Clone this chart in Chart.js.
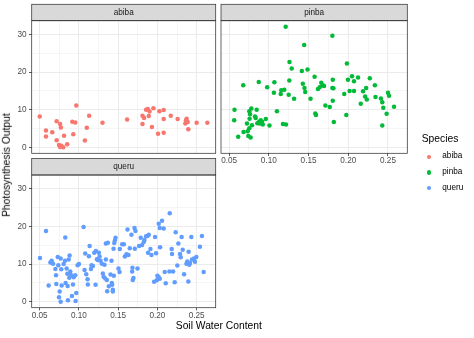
<!DOCTYPE html>
<html><head><meta charset="utf-8">
<script src="https://cdn.jsdelivr.net/npm/chart.js@4.4.0/dist/chart.umd.min.js"></script>
<style>
html,body{margin:0;padding:0;background:#fff;}
body{width:474px;height:338px;position:relative;overflow:hidden;font-family:"Liberation Sans",Arial,sans-serif;}
canvas{position:absolute;}
.t{position:absolute;white-space:nowrap;line-height:1;color:#000;}
.dot{position:absolute;width:4.4px;height:4.4px;border-radius:50%;}
</style></head><body>
<canvas id="cA" width="218" height="156" style="left:0;top:0"></canvas>
<canvas id="cB" width="194" height="172" style="left:216px;top:0"></canvas>
<canvas id="cC" width="218" height="182" style="left:0;top:156px"></canvas>
<div class="t" id="ytitle" style="font-size:10.3px;left:7.2px;top:165px;transform:translate(-50%,-50%) rotate(-90deg);">Photosynthesis Output</div>
<div class="t" id="xtitle" style="font-size:10.3px;left:218.8px;top:321.4px;transform:translateX(-50%);">Soil Water Content</div>
<div id="legend"></div>
<script>
// ---------- data ----------
const species = ['abiba','pinba','queru'];
const speciesColors = ['#F8766D','#00BA38','#619CFF'];

const abibaWater = [0.050,0.058,0.058,0.066,0.0716,0.0716,0.076,0.077,0.0746,0.076,0.0775,0.080,0.081,0.085,0.0915,0.0928,0.0953,0.0966,0.1076,0.110,0.113,0.130,0.1614,0.181,0.181,0.183,0.1856,0.1877,0.189,0.190,0.193,0.195,0.2008,0.2025,0.208,0.208,0.208,0.217,0.2258,0.2356,0.2364,0.2373,0.2386,0.2394,0.250,0.2636];
const abibaPhoto = [8.2,4.5,2.9,4.0,6.9,1.9,6.2,5.3,0.6,0.1,0.4,0.0,3.1,0.8,6.8,3.5,6.6,11.1,1.8,5.2,8.4,6.5,7.4,8.4,6.2,7.8,10.0,10.2,8.3,9.5,5.4,10.4,3.6,9.6,7.5,9.9,3.9,8.4,7.5,6.3,7.2,7.6,6.7,4.8,6.5,6.5];

const pinbaWater = [0.1212,0.180,0.1445,0.126,0.1288,0.1415,0.1487,0.1983,0.0678,0.0873,0.107,0.1258,0.0979,0.1064,0.1157,0.1195,0.125,0.115,0.1428,0.1449,0.1458,0.1318,0.1525,0.1576,0.1618,0.164,0.166,0.1678,0.1695,0.1805,0.180,0.1813,0.1805,0.1712,0.1767,0.1585,0.1593,0.1818,0.1975,0.1949,0.1996,0.2017,0.2047,0.2072,0.2072,0.2123,0.2157,0.2186,0.2212,0.2225,0.2233,0.2271,0.2335,0.2343,0.2411,0.2428,0.2441,0.250,0.2513,0.2483,0.2576,0.2428,0.0568,0.0564,0.0614,0.0682,0.0725,0.0733,0.0742,0.0754,0.0763,0.0758,0.0754,0.0771,0.078,0.0788,0.0826,0.0835,0.0847,0.0856,0.0877,0.0886,0.0898,0.0907,0.0915,0.0924,0.0962,0.1008,0.1102,0.1178,0.1216];
const pinbaPhoto = [32.1,29.7,27.2,22.7,21.0,20.3,20.7,22.3,16.5,17.4,17.3,17.8,16.0,14.5,15.2,15.3,14.0,14.2,16.9,15.8,14.7,12.9,12.9,18.8,15.5,16.0,17.2,16.5,16.3,18.0,15.8,15.7,12.4,11.1,10.7,9.0,8.6,6.7,8.6,14.2,18.0,15.0,18.9,17.6,15.0,18.6,11.6,14.9,13.5,15.8,12.7,18.4,16.5,13.4,13.0,12.0,10.5,14.5,13.7,8.9,10.8,5.8,10.0,7.2,2.8,4.1,6.3,4.3,3.0,9.6,8.8,7.6,5.1,2.6,10.3,5.9,8.2,7.8,10.0,6.4,6.8,6.3,7.2,6.5,6.8,6.1,7.5,5.8,9.6,6.2,6.1];

const queruWater = [0.0504,0.058,0.0614,0.0636,0.0653,0.067,0.070,0.0708,0.0712,0.0729,0.0737,0.0746,0.0754,0.0767,0.0767,0.0775,0.078,0.0805,0.0822,0.0826,0.083,0.0843,0.0852,0.0856,0.086,0.0869,0.0877,0.0881,0.089,0.0898,0.0911,0.0924,0.0932,0.0953,0.0958,0.0966,0.0983,0.100,0.1059,0.1072,0.1093,0.108,0.111,0.1114,0.1127,0.1136,0.1153,0.1161,0.1178,0.1195,0.1212,0.1216,0.1229,0.1242,0.1254,0.1263,0.1275,0.1292,0.1305,0.1314,0.1326,0.1335,0.1343,0.1343,0.1356,0.136,0.1369,0.1381,0.1403,0.1415,0.1419,0.1424,0.1432,0.1432,0.1441,0.145,0.1458,0.1466,0.1445,0.1504,0.1517,0.1521,0.1551,0.1572,0.1585,0.1606,0.1619,0.1631,0.1648,0.1669,0.1678,0.1682,0.1686,0.1695,0.1708,0.1712,0.172,0.1746,0.1767,0.1788,0.1805,0.1826,0.1835,0.1856,0.1873,0.1881,0.189,0.1911,0.1924,0.1958,0.197,0.1983,0.1992,0.200,0.2017,0.2017,0.2030,0.2030,0.2034,0.2059,0.208,0.2093,0.2106,0.2153,0.2157,0.2182,0.2186,0.220,0.222,0.2233,0.2254,0.2267,0.2288,0.2297,0.2309,0.2322,0.234,0.237,0.2381,0.2394,0.2398,0.2407,0.2415,0.2432,0.2441,0.2466,0.2479,0.2496,0.2542,0.2568,0.2589];
const queruPhoto = [11.6,18.8,4.3,10.4,10.9,10.1,8.7,7.0,4.7,11.9,9.7,1.2,2.7,0.0,11.5,8.6,4.3,10.0,10.9,17.1,5.0,8.8,7.4,4.2,0.4,11.2,6.4,12.3,8.0,7.1,1.5,4.6,6.5,7.0,0.2,2.3,9.7,10.0,19.9,8.4,7.3,12.8,6.0,4.6,12.1,14.8,8.7,9.7,9.5,13.0,4.5,13.5,11.3,11.1,13.0,12.0,10.9,10.1,7.5,6.6,9.8,6.2,11.2,15.5,5.8,2.8,15.7,4.1,7.2,10.9,5.0,4.5,3.2,2.7,14.1,15.6,16.3,17.0,6.9,8.8,7.9,14.0,15.3,15.3,12.0,12.6,19.2,12.4,14.2,17.8,8.0,9.0,5.8,6.3,19.6,14.1,18.8,8.8,14.8,17.0,15.1,15.9,16.4,17.4,17.5,13.0,17.8,14.0,12.4,5.3,17.2,12.9,5.7,6.9,6.5,20.7,19.6,6.1,14.5,21.5,19.5,7.9,4.9,8.0,23.5,14.0,12.7,8.0,5.2,18.5,9.6,15.5,12.7,11.8,17.2,13.8,7.3,10.1,10.7,5.4,13.3,9.8,10.3,17.2,11.2,11.5,10.6,11.9,14.6,17.5,7.9];

const xTickValues = [0.05,0.075,0.10,0.125,0.15,0.175,0.20,0.225,0.25];
const xTickLabels = ['0.05','','0.10','','0.15','','0.20','','0.25'];
const yTickValues = [0,5,10,15,20,25,30];
const yTickLabels = ['0','','10','','20','','30'];
const xLimits = [0.0398, 0.2743];
const yLimits = [-1.6, 33.7];

const axisTitleX = 'Soil Water Content';
const axisTitleY = 'Photosynthesis Output';
const legendTitle = 'Species';

// ---------- helpers ----------
const FONT = '"Liberation Sans", Arial, sans-serif';
const TICK_FONT = {family: FONT, size: 8.2};
const STRIP_H = 16.4;

function pairs(xs, ys){ return xs.map((x,i)=>({x:x, y:ys[i]})); }

const panelPlugin = {
  id: 'panel',
  afterDraw(chart, args, opts){
    const ctx = chart.ctx, a = chart.chartArea;
    ctx.save();
    ctx.fillStyle = '#D9D9D9';
    ctx.fillRect(a.left, a.top - STRIP_H, a.right - a.left, STRIP_H);
    ctx.strokeStyle = '#333333';
    ctx.lineWidth = 0.75;
    ctx.strokeRect(a.left, a.top - STRIP_H, a.right - a.left, STRIP_H);
    ctx.strokeRect(a.left, a.top, a.right - a.left, a.bottom - a.top);
    ctx.fillStyle = '#1A1A1A';
    ctx.font = '8.2px ' + FONT;
    ctx.textAlign = 'center';
    ctx.textBaseline = 'middle';
    ctx.fillText(opts.label, (a.left + a.right) / 2, a.top - STRIP_H / 2 + 0.3);
    ctx.restore();
  }
};

function gridOpts(labels, showTicks){
  const major = c => c && labels[c.index] !== undefined && labels[c.index] !== '';
  return {
    color: '#EBEBEB',
    lineWidth: c => major(c) ? 1 : 0.5,
    drawTicks: showTicks,
    tickLength: 2.7,
    tickColor: c => major(c) ? '#333333' : 'rgba(0,0,0,0)',
    tickWidth: 0.8
  };
}

function xScale(showLabels, fitHeight){
  return {
    type: 'linear', position: 'bottom',
    min: xLimits[0], max: xLimits[1],
    afterBuildTicks: s => { s.ticks = xTickValues.map(v => ({value: v})); },
    ticks: {display: showLabels, autoSkip: false, maxRotation: 0, minRotation: 0, padding: 0.3,
            font: TICK_FONT, color: '#4D4D4D', callback: (v, i) => xTickLabels[i]},
    grid: gridOpts(xTickLabels, showLabels),
    border: {display: false},
    afterFit: s => { s.height = fitHeight; s.paddingLeft = 0; s.paddingRight = 0; }
  };
}

function yScale(showLabels, fitWidth){
  return {
    type: 'linear', position: 'left',
    min: yLimits[0], max: yLimits[1],
    afterBuildTicks: s => { s.ticks = yTickValues.map(v => ({value: v})); },
    ticks: {display: showLabels, autoSkip: false, padding: 2.4,
            font: TICK_FONT, color: '#4D4D4D', callback: (v, i) => yTickLabels[i]},
    grid: gridOpts(yTickLabels, showLabels),
    border: {display: false},
    afterFit: s => { s.width = fitWidth; s.paddingTop = 0; s.paddingBottom = 0; }
  };
}

function makePanel(id, idx, xs, ys, o){
  new Chart(document.getElementById(id), {
    type: 'scatter',
    data: {datasets: [{
      label: species[idx],
      data: pairs(xs, ys),
      backgroundColor: speciesColors[idx],
      borderWidth: 0,
      pointRadius: 2.25,
      pointHoverRadius: 2.25
    }]},
    options: {
      responsive: false, animation: false, devicePixelRatio: 1, events: [],
      layout: {autoPadding: false, padding: o.padding},
      plugins: {legend: {display: false}, tooltip: {enabled: false}, title: {display: false},
                panel: {label: species[idx]}},
      scales: {
        x: xScale(o.xLabels, o.xFit),
        y: yScale(o.yLabels, o.yFit)
      }
    },
    plugins: [panelPlugin]
  });
}

// abiba: canvas (0,0) 218x156 -> plot 31.7..215.7 x 20.7..153.3
makePanel('cA', 0, abibaWater, abibaPhoto,
  {padding: {top: 20.7, left: 0, right: 2.3, bottom: 2.7}, xLabels: false, xFit: 0, yLabels: true, yFit: 31.7});
// pinba: canvas (216,0) 194x172 -> plot 221..407.3 x 20.7..153.3
makePanel('cB', 1, pinbaWater, pinbaPhoto,
  {padding: {top: 20.7, left: 5, right: 2.7, bottom: 0}, xLabels: true, xFit: 18.7, yLabels: false, yFit: 0});
// queru: canvas (0,156) 218x182 -> plot 31.7..215.7 x 175..307.7
makePanel('cC', 2, queruWater, queruPhoto,
  {padding: {top: 19, left: 0, right: 2.3, bottom: 0}, xLabels: true, xFit: 30.3, yLabels: true, yFit: 31.7});

// ---------- legend ----------
const lg = document.getElementById('legend');
const lt = document.createElement('div');
lt.className = 't'; lt.style.fontSize = '10.3px'; lt.style.left = '421.7px'; lt.style.top = '133.7px';
lt.textContent = legendTitle; lg.appendChild(lt);
const keyY = [156.7, 172.5, 188.3];
species.forEach((s, i) => {
  const d = document.createElement('div');
  d.className = 'dot'; d.style.background = speciesColors[i];
  d.style.left = (429.3 - 2.2) + 'px'; d.style.top = (keyY[i] - 2.2) + 'px';
  lg.appendChild(d);
  const t = document.createElement('div');
  t.className = 't'; t.style.fontSize = '8.2px'; t.style.left = '442.3px'; t.style.top = (keyY[i] - 4.3) + 'px';
  t.textContent = s; lg.appendChild(t);
});
document.getElementById('xtitle').textContent = axisTitleX;
document.getElementById('ytitle').textContent = axisTitleY;
</script>
</body></html>
